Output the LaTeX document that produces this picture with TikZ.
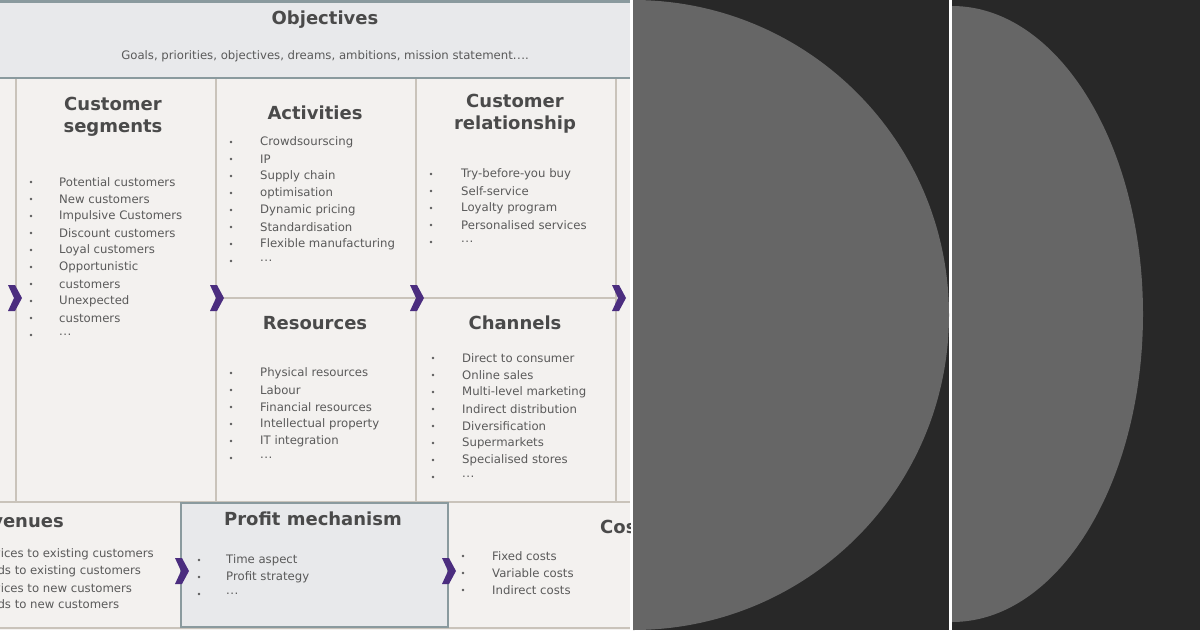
\documentclass[tikz,border=0pt]{standalone}
\usepackage{fontspec}
\setmainfont{DejaVu Sans}
\newcommand{\blist}[4]{%
  \foreach \t [count=\i from 0] in {#4} {
    \fill[ic] (#1+2,#3+17*\i) circle (1.3);
    \node[item] at (#2,#3+17*\i) {\t};
  }}
\newcommand{\dd}{.\kern0.5pt.\kern0.5pt.}
\begin{document}
\begin{tikzpicture}[x=1pt,y=-1pt,
  title/.style={font=\fontsize{18}{22}\selectfont\bfseries, text=tc, align=center, inner sep=0},
  item/.style={font=\fontsize{11.7}{13}\selectfont, text=ic, anchor=west, inner sep=0},
  vline/.style={draw=lc, line width=2.5pt},
  chev/.style={fill=pc}]
\definecolor{bg}{HTML}{F3F1EF}
\definecolor{band}{HTML}{E8E9EB}
\definecolor{lc}{HTML}{C9C3BA}
\definecolor{bl}{HTML}{8A9A9E}
\definecolor{pc}{HTML}{4B2D7F}
\definecolor{tc}{HTML}{4A4A4A}
\definecolor{ic}{HTML}{5A5A5A}
\definecolor{dk}{HTML}{282828}
\definecolor{gr}{HTML}{666666}
\useasboundingbox (0,0) rectangle (1200,630);
\fill[white] (0,0) rectangle (1200,630);
% right panels
\fill[dk] (633,0) rectangle (949,630);
\fill[dk] (952,0) rectangle (1200,630);
\begin{scope}
\clip (633,0) rectangle (949,630);
\fill[gr] (633,315) ellipse [x radius=316, y radius=315];
\end{scope}
\begin{scope}
\clip (952,0) rectangle (1200,630);
\fill[gr] (952,314) ellipse [x radius=191, y radius=308];
\end{scope}
% left panel
\begin{scope}
\clip (0,0) rectangle (630,630);
\fill[bg] (0,0) rectangle (630,630);
\fill[band] (0,0) rectangle (630,78);
\draw[bl, line width=3pt] (0,1.5) -- (630,1.5);
\draw[bl, line width=2.5pt] (0,78) -- (630,78);
\node[title] (obj) at (325,20) {Objectives};
\node[font=\fontsize{11.7}{13}\selectfont, text=ic] (objs) at (325,56) {Goals, priorities, objectives, dreams, ambitions, mission statement\dd.};
\foreach \x in {16,216,416,616} \draw[vline] (\x,79) -- (\x,501);
\draw[vline] (216,298) -- (616,298);
\draw[vline] (0,502) -- (630,502);
\draw[vline] (0,628) -- (630,628);
\fill[band] (180,502) rectangle (449,628);
\draw[bl, line width=2pt] (181,503) rectangle (448,627);
% titles
\node[title] (cs) at (113,117) {Customer\\segments};
\node[title] (act) at (315,113) {Activities};
\node[title] (cr) at (515,114) {Customer\\relationship};
\node[title] (res) at (315,323) {Resources};
\node[title] (ch) at (515,323) {Channels};
\node[title] (pm) at (313,519) {Profit mechanism};
\node[title, anchor=east] (rev) at (64,521) {Revenues};
\node[title, anchor=west] (cost) at (600,527) {Costs};
% lists
\blist{29}{59}{182}{Potential customers,New customers,Impulsive Customers,Discount customers,Loyal customers,Opportunistic,customers,Unexpected,customers,\dd}
\blist{229}{260}{142}{Crowdsourscing,IP,Supply chain,optimisation,Dynamic pricing,Standardisation,Flexible manufacturing,\dd}
\blist{429}{461}{174}{Try-before-you buy,Self-service,Loyalty program,Personalised services,\dd}
\blist{229}{260}{373}{Physical resources,Labour,Financial resources,Intellectual property,IT integration,\dd}
\blist{431}{462}{358}{Direct to consumer,Online sales,Multi-level marketing,Indirect distribution,Diversification,Supermarkets,Specialised stores,\dd}
\blist{197}{226}{560}{Time aspect,Profit strategy,\dd}
\blist{461}{492}{556}{Fixed costs,Variable costs,Indirect costs}
\node[item, anchor=east] (r1) at (154,554) {Sales of services to existing customers};
\foreach \t [count=\i] in {Sales of goods to existing customers,Sales of services to new customers,Sales of goods to new customers}
  \node[item] at ([yshift=-17*\i pt]r1.west) {\t};
% chevrons
\foreach \x/\y in {8/298,210/298,410/298,612/298,175/571,442/571}
  \fill[chev] (\x,\y-13) -- (\x+7,\y-13) -- (\x+14,\y) -- (\x+7,\y+13) -- (\x,\y+13) -- (\x+6,\y) -- cycle;
\end{scope}
\end{tikzpicture}
\end{document}
